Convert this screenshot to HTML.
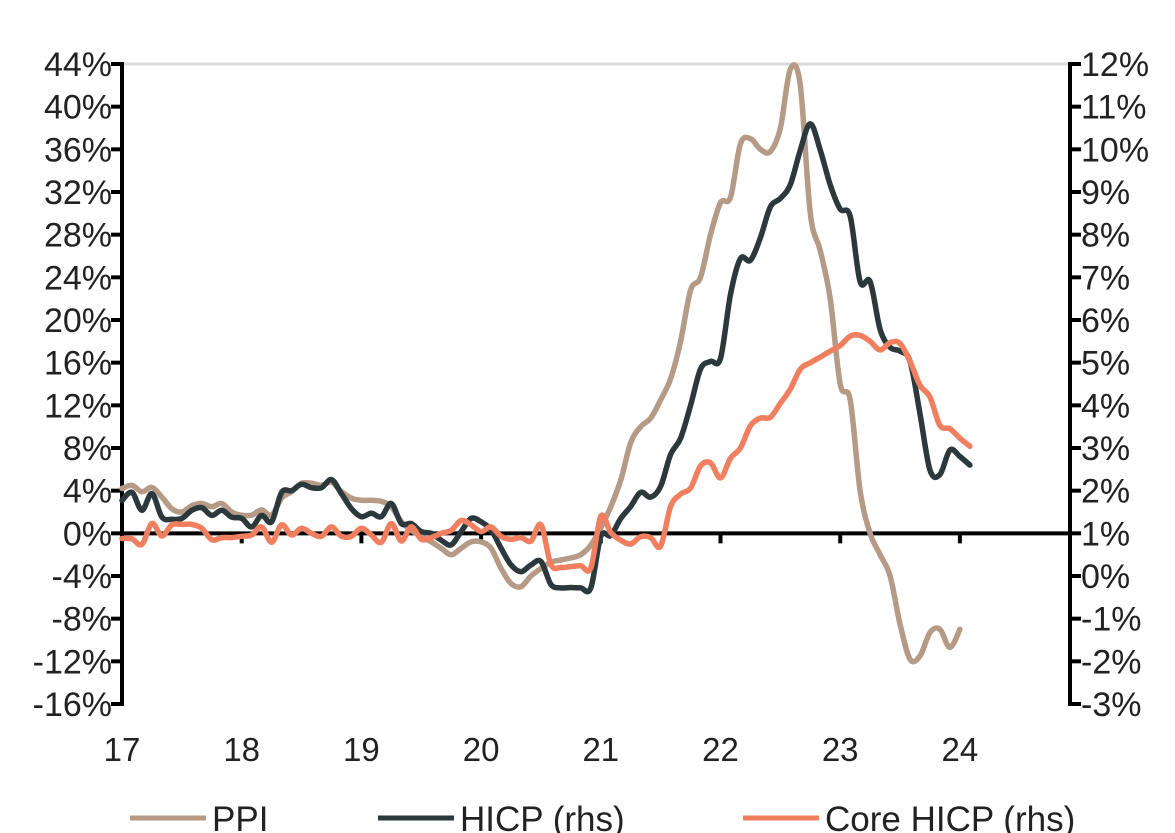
<!DOCTYPE html>
<html><head><meta charset="utf-8"><style>
html,body{margin:0;padding:0;background:#fff;}
svg{display:block;font-family:"Liberation Sans",sans-serif;}
</style></head><body>
<svg id="chart" width="1175" height="833" viewBox="0 0 1175 833" xmlns="http://www.w3.org/2000/svg"></svg>
<script>
const yearLabels=["17","18","19","20","21","22","23","24"];
const leftTicks=[44,40,36,32,28,24,20,16,12,8,4,0,-4,-8,-12,-16];
const rightTicks=[12,11,10,9,8,7,6,5,4,3,2,1,0,-1,-2,-3];
const ppi=[4.2,4.5,3.9,4.3,3.4,2.3,2.0,2.6,2.8,2.5,2.8,2.0,
1.7,1.7,2.2,1.7,3.3,3.9,4.7,4.7,4.5,4.8,3.9,3.3,
3.1,3.1,3.0,2.5,1.1,0.3,-0.3,-0.8,-1.4,-2.0,-1.4,-0.8,
-0.8,-1.4,-3.3,-4.7,-5.0,-4.0,-3.3,-2.7,-2.5,-2.3,-2.0,-1.1,
0.5,2.5,5.0,8.5,10.0,10.8,12.5,14.5,18.0,22.8,24.0,28.0,
31.0,31.5,36.5,37.0,36.0,35.8,38.0,43.5,42.0,30.0,26.5,22.0,
14.0,12.5,4.0,0.0,-2.0,-4.0,-8.5,-11.8,-11.5,-9.3,-9.0,-10.7,-9.0];
const hicp=[1.77,1.96,1.54,1.93,1.38,1.33,1.35,1.54,1.6,1.42,1.54,1.38,
1.35,1.15,1.42,1.27,1.96,2.0,2.15,2.07,2.07,2.26,1.93,1.58,
1.39,1.47,1.39,1.7,1.23,1.23,1.04,1.0,0.84,0.73,1.04,1.35,
1.27,1.08,0.65,0.26,0.1,0.26,0.34,-0.2,-0.28,-0.27,-0.28,-0.28,
0.93,0.95,1.35,1.63,1.96,1.85,2.1,2.85,3.23,4.0,4.85,5.03,
5.1,6.6,7.44,7.4,7.93,8.65,8.85,9.17,9.98,10.6,9.98,9.17,
8.6,8.43,6.9,6.9,5.78,5.36,5.27,5.03,3.8,2.48,2.38,2.95,2.8,2.6];
const core=[0.88,0.87,0.74,1.23,0.94,1.2,1.21,1.21,1.12,0.85,0.9,0.9,
0.93,0.96,1.15,0.79,1.2,0.96,1.12,1.0,0.93,1.15,0.93,0.93,
1.12,0.96,0.79,1.23,0.82,1.15,0.86,0.9,1.0,1.07,1.3,1.2,
1.04,1.15,0.93,0.86,0.9,0.82,1.2,0.27,0.2,0.22,0.24,0.19,
1.4,1.02,0.84,0.75,0.92,0.9,0.7,1.63,1.92,2.06,2.58,2.65,
2.3,2.76,3.0,3.52,3.7,3.72,4.05,4.38,4.85,5.0,5.13,5.27,
5.4,5.62,5.64,5.5,5.3,5.47,5.45,5.03,4.47,4.19,3.53,3.45,3.23,3.04];

const NS="http://www.w3.org/2000/svg";
const svg=document.getElementById('chart');
const X0=122,X1=1070,YT=64,YB=704;
function xm(m){return X0+m*(119.7/12);}
function yl(v){return YT+(44-v)*(YB-YT)/60;}
function yr(v){return YT+(12-v)*(YB-YT)/15;}
function mk(tag,attrs){const e=document.createElementNS(NS,tag);for(const k in attrs)e.setAttribute(k,attrs[k]);svg.appendChild(e);return e;}

let g=mk('line',{x1:X0,x2:X1,y1:YT,y2:YT,stroke:'#d9d9d9','stroke-width':3});



let la=mk('line',{x1:X0,x2:X0,y1:YT-2,y2:YB+2,stroke:'#000','stroke-width':4});


let ra=mk('line',{x1:X1,x2:X1,y1:YT-2,y2:YB+2,stroke:'#000','stroke-width':4});



leftTicks.forEach(v=>{
  const y=yl(v);
  const t=mk('line',{x1:X0-11,x2:X0,y1:y,y2:y,stroke:'#000','stroke-width':4});
  
  
  const tx=mk('text',{x:X0-10,y:y+12,'text-anchor':'end','font-size':34,fill:'#222'});
  tx.textContent=v+'%';
  
  
});
rightTicks.forEach(v=>{
  const y=yr(v);
  const t=mk('line',{x1:X1,x2:X1+11,y1:y,y2:y,stroke:'#000','stroke-width':4});
  
  
  const tx=mk('text',{x:X1+11,y:y+12,'text-anchor':'start','font-size':34,fill:'#222'});
  tx.textContent=v+'%';
  
  
});

const y0=yl(0);
let xa=mk('line',{x1:X0,x2:X1,y1:y0,y2:y0,stroke:'#000','stroke-width':4});


yearLabels.forEach((lab,i)=>{
  const x=xm(i*12);
  if(i>0){const t=mk('line',{x1:x,x2:x,y1:y0,y2:y0+10,stroke:'#000','stroke-width':4});
  
  }
  const tx=mk('text',{x:x,y:761,'text-anchor':'middle','font-size':33,fill:'#222'});
  tx.textContent=lab;
  
  
});

function series(arr,yf,color,name){
  const pts=arr.map((v,i)=>[xm(i),yf(v)]);
  let d='M'+pts[0][0].toFixed(1)+','+pts[0][1].toFixed(1);
  for(let i=0;i<pts.length-1;i++){
    const p0=pts[Math.max(0,i-1)],p1=pts[i],p2=pts[i+1],p3=pts[Math.min(pts.length-1,i+2)];
    const c1=[p1[0]+(p2[0]-p0[0])/6,p1[1]+(p2[1]-p0[1])/6];
    const c2=[p2[0]-(p3[0]-p1[0])/6,p2[1]-(p3[1]-p1[1])/6];
    d+=' C'+c1[0].toFixed(1)+','+c1[1].toFixed(1)+' '+c2[0].toFixed(1)+','+c2[1].toFixed(1)+' '+p2[0].toFixed(1)+','+p2[1].toFixed(1);
  }
  const p=mk('path',{d:d,fill:'none',stroke:color,'stroke-width':5.5,'stroke-linejoin':'round','stroke-linecap':'round'});
  
  
}
series(ppi,yl,'#b59a86','ppi-line');
series(hicp,yr,'#2b383c','hicp-line');
series(core,yr,'#f07f5f','core-hicp-line');

const legend=[['PPI','#b59a86',130,'legend-ppi'],['HICP (rhs)','#2b383c',378,'legend-hicp'],['Core HICP (rhs)','#f07f5f',743,'legend-core-hicp']];
legend.forEach(([lab,c,x,n])=>{
  const l=mk('line',{x1:x,x2:x+76,y1:818,y2:818,stroke:c,'stroke-width':5});
  
  
  const t=mk('text',{x:x+82,y:831,'font-size':35,fill:'#222'});
  t.textContent=lab;
  
  
});
</script>
</body></html>
